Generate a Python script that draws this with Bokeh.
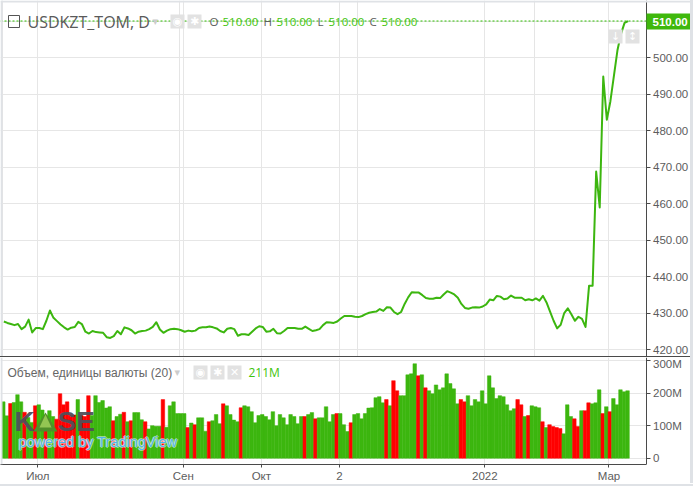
from bokeh.plotting import figure
from bokeh.models import (ColumnDataSource, FixedTicker, Label, BoxAnnotation, Span, Grid,
                          Spacer, PolyAnnotation, Range1d)
from bokeh.layouts import column, row
from bokeh.transform import dodge
from bokeh.embed import file_html
from bokeh.resources import INLINE

close_price = [
 427.8,427.4,427.1,426.8,427.1,425.7,426.4,428.3,424.8,426.0,
 426.0,425.7,428.0,430.8,428.8,427.9,427.0,426.2,425.6,426.1,
 426.3,427.7,427.1,425.0,424.5,425.2,424.9,424.8,424.7,423.5,
 423.3,423.8,425.2,424.3,426.2,425.9,425.4,424.5,425.0,425.2,
 425.3,425.7,426.3,427.6,425.6,424.7,425.3,425.7,425.8,425.7,
 425.4,425.0,425.3,425.1,425.3,426.0,426.2,426.2,426.4,426.2,
 425.9,425.2,424.8,425.8,426.0,425.7,423.9,424.3,424.3,424.1,
 425.0,425.9,426.5,426.3,425.0,425.1,425.8,424.6,424.5,425.2,
 426.0,426.0,426.0,425.8,425.8,426.4,425.8,425.2,425.4,425.7,
 426.8,427.6,427.5,427.4,427.8,428.6,429.3,429.3,429.3,429.1,
 429.0,429.3,429.8,430.2,430.4,430.5,431.2,430.7,431.7,431.6,
 430.4,429.8,430.4,432.6,434.4,435.8,435.7,435.7,435.0,434.2,
 434.0,434.0,434.3,434.2,435.2,436.1,435.7,435.2,434.3,432.6,
 431.5,431.3,431.6,431.7,431.6,431.9,432.5,433.8,433.6,434.8,
 434.6,433.9,434.1,434.9,434.3,434.3,434.3,433.6,433.9,433.6,
 434.1,433.5,434.8,433.0,430.5,428.0,425.9,426.9,430.1,431.4,
 429.8,428.0,429.1,428.5,426.3,437.6,437.6,468.8,459.0,494.8,
 483.0,488.0,495.0,502.0,506.5,509.5,510.0]
volume_m = [
 173,130,168,171,195,173,141,125,110,161,164,148,130,146,128,120,198,164,173,133,
 133,180,131,128,192,131,192,171,177,154,158,115,128,135,141,112,115,140,140,118,
 112,90,100,98,98,180,95,161,173,137,137,137,94,108,103,124,124,83,112,115,
 134,106,167,161,134,117,112,155,161,158,143,109,131,134,128,118,143,100,134,124,
 103,134,128,106,128,128,134,140,121,124,124,158,112,134,137,137,103,82,109,134,
 137,121,137,154,155,186,189,170,180,161,238,207,192,192,256,259,290,253,256,216,
 207,198,225,210,216,259,229,213,167,180,173,192,161,180,173,207,167,253,216,183,
 192,189,164,146,152,180,164,128,131,161,158,155,112,94,103,97,94,91,75,164,
 128,121,97,146,146,170,167,170,210,137,158,143,183,164,210,204,207]
falling = [
 0,0,1,0,0,0,1,0,0,1,0,0,1,0,0,1,1,1,1,1,
 1,0,1,1,1,0,0,0,0,0,0,1,0,0,1,0,1,0,0,0,
 1,0,0,0,0,1,0,0,0,0,0,0,1,0,1,0,0,0,1,0,
 0,0,1,0,0,0,0,1,0,0,0,0,0,0,0,0,0,0,0,0,
 0,0,0,0,0,1,0,0,1,0,0,0,0,0,1,0,0,0,1,0,
 0,0,0,0,0,0,0,0,1,0,1,1,0,0,0,0,0,1,0,1,
 0,0,0,0,0,0,0,0,0,1,1,0,0,0,0,0,0,0,0,0,
 0,0,0,0,0,1,1,0,1,0,0,0,1,0,1,1,1,1,0,0,
 0,1,1,0,1,1,0,0,0,1,0,1,0,0,0,0,0]
time_ticks = [10, 51, 73, 95, 136, 171]
time_labels = ["Июл", "Сен", "Окт", "2", "2022", "Мар"]
price_ticks = [420, 430, 440, 450, 460, 470, 480, 490, 500, 510]
volume_ticks = [0, 100, 200, 300]
volume_labels = ["0", "100M", "200M", "300M"]

GREEN, RED, TEXTG = "#3cb60f", "#ff0000", "#3fc40c"
GRID, AXIS, TXT = "#e6e6e6", "#4a4a4a", "#5d5d5d"
EDGE = "#dfe2e6"
SANS = "Liberation Sans"
idx = list(range(len(close_price)))
x_left, x_axis_at = -0.536, 181.45
x_range = Range1d(x_left, 193.995)

src_p = ColumnDataSource(dict(i=idx, c=close_price))
src_v = ColumnDataSource(dict(i=idx, v=volume_m,
                              col=[RED if f else GREEN for f in falling]))

FW = 690
PH, VH, VF = 356, 126, 107

def style(p):
    p.outline_line_color = None
    p.yaxis.fixed_location = x_axis_at
    p.yaxis.axis_line_color = AXIS
    p.yaxis.major_tick_line_color = AXIS
    p.yaxis.major_tick_out = 4
    p.yaxis.major_tick_in = 0
    p.yaxis.minor_tick_line_color = None
    p.yaxis.major_label_text_color = TXT
    p.yaxis.major_label_text_font = SANS
    p.yaxis.major_label_text_font_size = "11.5px"
    p.yaxis.major_label_standoff = 3
    p.ygrid.grid_line_color = GRID
    p.min_border_left = 0
    p.min_border_top = 0
    p.min_border_right = 0

price = figure(width=FW, height=PH, frame_width=FW, frame_height=PH, x_range=x_range,
               y_range=Range1d(418.22, 515.616), output_backend="svg", toolbar_location=None,
               y_axis_location="right", x_axis_location=None, min_border_bottom=0)
style(price)
price.yaxis.ticker = FixedTicker(ticks=price_ticks)
price.yaxis.major_label_overrides = {t: f"{t:.2f}" for t in price_ticks}
price.ygrid.ticker = FixedTicker(ticks=price_ticks)
price.add_layout(Grid(dimension=0, ticker=FixedTicker(ticks=time_ticks), grid_line_color=GRID))
price.line(dodge("i", 0.4, range=x_range), "c", source=src_p, line_color=GREEN, line_width=2, line_join="round")
price.add_layout(Span(location=close_price[-1], dimension="width", line_color="#2fbf00",
                      line_dash=[2, 2], line_width=1))

vol = figure(width=FW, height=VH, frame_width=FW, frame_height=VF, x_range=x_range,
             y_range=Range1d(-19.3, 309.2), output_backend="svg", toolbar_location=None,
             y_axis_location="right", min_border_bottom=VH - VF)
style(vol)
vol.yaxis.ticker = FixedTicker(ticks=volume_ticks)
vol.yaxis.major_label_overrides = dict(zip(volume_ticks, volume_labels))
vol.ygrid.ticker = FixedTicker(ticks=volume_ticks)
vol.xaxis.ticker = FixedTicker(ticks=time_ticks)
vol.xaxis.major_label_overrides = dict(zip(time_ticks, time_labels))
vol.xaxis.bounds = (x_left, x_axis_at)
vol.xaxis.axis_line_color = AXIS
vol.xaxis.major_tick_line_color = AXIS
vol.xaxis.major_tick_out = 3
vol.xaxis.major_tick_in = 0
vol.xaxis.minor_tick_line_color = None
vol.xaxis.major_label_text_color = TXT
vol.xaxis.major_label_text_font = SANS
vol.xaxis.major_label_text_font_size = "11.5px"
vol.xaxis.major_label_standoff = 2
vol.xgrid.ticker = FixedTicker(ticks=time_ticks)
vol.xgrid.grid_line_color = GRID
vol.vbar(x=dodge("i", 0.25, range=x_range), top="v", bottom=0, width=1.0, source=src_v,
         fill_color="col", line_color="col", line_width=0.5)

def text(p, H, fx, fy, s, color=TXT, size="12px", font="Open Sans", style_="normal", alpha=1.0, align="left"):
    p.add_layout(Label(x=fx, y=H - fy, x_units="screen", y_units="screen", text=s, text_color=color,
                       text_font_size=size, text_font=font, text_font_style=style_,
                       text_baseline="middle", text_align=align, text_alpha=alpha))

def box(p, H, l, r, t, b, fill, line=None, level="annotation"):
    p.add_layout(BoxAnnotation(left=l, right=r, top=H - t, bottom=H - b, left_units="screen",
                               right_units="screen", top_units="screen", bottom_units="screen",
                               fill_color=fill, fill_alpha=1 if fill else 0, level=level,
                               line_color=line, line_alpha=1 if line else 0, line_width=1))

def icon(p, H, l, t, s):
    box(p, H, l, l + 14, t, t + 14, "#e2e2e2")
    text(p, H, l + 7, t + 7, s, color="#ffffff", size="11px", font="DejaVu Sans", align="center")

# hide the grid to the right of the axis, as the price scale has none
box(price, PH, 646, FW, 0, PH, "#ffffff", level="glyph")
box(vol, VF, 646, FW, 0, VF, "#ffffff", level="glyph")

# page frame
box(price, PH, 0, 2, 0, PH, EDGE)
box(price, PH, 0, FW, 0, 2, EDGE)
box(vol, VF, 0, 2, 0, VF, EDGE)

# price panel header
box(price, PH, 8, 19, 15, 27, None, "#555555")
text(price, PH, 27, 21, "USDKZT_TOM, D", size="16px", color="#5a5a5a")
text(price, PH, 152, 21, "▾", color="#cccccc", size="11px", font="DejaVu Sans")
icon(price, PH, 170, 14, "◉")
icon(price, PH, 187, 14, "✱")
for lab, lx, vx in zip("OHLC", (209, 263, 317, 369), (222, 276, 328, 381)):
    text(price, PH, lx, 21, lab, size="11.5px")
    text(price, PH, vx, 21, "510.00", color=TEXTG, size="11.5px")
icon(price, PH, 608, 29, "↓")
icon(price, PH, 625, 29, "↕")
box(price, PH, 646, 690, 13, 29, "#3fb80c")
text(price, PH, 652, 21, "510.00", color="#ffffff", size="11.5px", font=SANS, style_="bold")

# volume panel header (y from top of the lower panel, which starts at 357)
text(vol, VF, 7, 15, "Объем, единицы валюты (20)", size="12px", font=SANS, color="#666666")
text(vol, VF, 174, 15, "▾", color="#cccccc", size="11px", font="DejaVu Sans")
icon(vol, VF, 193, 8, "◉")
icon(vol, VF, 210, 8, "✱")
icon(vol, VF, 227, 8, "✕")
text(vol, VF, 248, 15, "211M", color=TEXTG, size="12px")

# watermark
text(vol, VF, 14, 64, "K", color="#50505a", size="28px", font=SANS, style_="bold", alpha=0.95)
text(vol, VF, 57, 64, "SE", color="#50505a", size="28px", font=SANS, style_="bold", alpha=0.95)
vol.add_layout(PolyAnnotation(xs=[33, 45, 57], ys=[33, 52, 33], xs_units="screen", ys_units="screen",
                              fill_color="#4f8f2a", fill_alpha=1, line_color=None))
vol.add_layout(PolyAnnotation(xs=[39, 45, 51], ys=[37, 50, 37], xs_units="screen", ys_units="screen",
                              fill_color="#93c653", fill_alpha=1, line_color=None))
for dx, dy in ((-1, 0), (1, 0), (0, -1), (0, 1)):
    text(vol, VF, 18 + dx, 84 + dy, "powered by TradingView", color="#ffffff", size="14.5px", font=SANS, alpha=0.5)
text(vol, VF, 18, 84, "powered by TradingView", color="#4fb4ea", size="14.5px", font=SANS)

rule = Spacer(width=FW, height=1, styles={"background": AXIS})
bottom = Spacer(width=693, height=3, styles={"background": EDGE})
side = Spacer(width=3, height=483, styles={"background": EDGE})
layout = column(row(column(price, rule, vol, spacing=0), side, spacing=0), bottom, spacing=0)
open("out.html", "w").write(file_html(layout, INLINE))
